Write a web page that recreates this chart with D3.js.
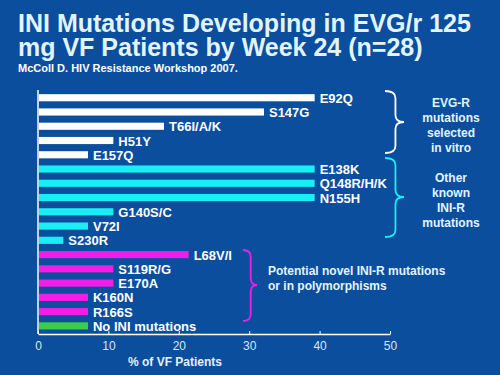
<!DOCTYPE html>
<html>
<head>
<meta charset="utf-8">
<script src="https://cdn.jsdelivr.net/npm/d3@7"></script>
<style>
  body { margin: 0; background: #0b4e9e; }
  svg { display: block; font-family: "Liberation Sans", Arial, sans-serif; }
</style>
</head>
<body>
<svg id="chart" width="500" height="375"></svg>
<script>
// mutation names, top to bottom
const mutations = ["E92Q", "S147G", "T66I/A/K", "H51Y", "E157Q",
    "E138K", "Q148R/H/K", "N155H", "G140S/C", "V72I", "S230R",
    "L68V/I", "S119R/G", "E170A", "K160N", "R166S", "No INI mutations"];
// % of VF patients (n=28)
const percents = [39.3, 32.1, 17.9, 10.7, 7.1,
    39.3, 39.3, 39.3, 10.7, 7.1, 3.6,
    21.4, 10.7, 10.7, 7.1, 7.1, 7.1];
const groups = ["evg", "evg", "evg", "evg", "evg",
    "known", "known", "known", "known", "known", "known",
    "novel", "novel", "novel", "novel", "novel", "none"];
const xTicks = [0, 10, 20, 30, 40, 50];

const COLORS = { evg: "#ffffff", known: "#19eef5", novel: "#f01ee6", none: "#3ccf46" };
const TEXT = "#e2f4ff";

const svg = d3.select("#chart");

// background
svg.append("rect").attr("width", 500).attr("height", 375).attr("fill", "#0b4e9e");

// Title
const title = svg.append("g").attr("fill", TEXT).style("font-weight", "bold");
title.append("text").attr("x", 18).attr("y", 32).style("font-size", "25px")
    .text("INI Mutations Developing in EVG/r 125");
title.append("text").attr("x", 18).attr("y", 56).style("font-size", "25px")
    .text("mg VF Patients by Week 24 (n=28)");
title.append("text").attr("x", 18).attr("y", 72).style("font-size", "11px")
    .attr("fill", "#ffffff")
    .text("McColl D. HIV Resistance Workshop 2007.");

const x = d3.scaleLinear().domain([0, 50]).range([38, 390]);
const y = d3.scaleBand().domain(mutations).range([90.6, 333]).paddingInner(0.5).paddingOuter(0.25);

// bars
svg.append("g").selectAll("rect")
    .data(mutations)
    .enter()
    .append("rect")
    .attr("x", x(0) + 1)
    .attr("y", d => y(d))
    .attr("width", (d, i) => x(percents[i]) - x(0) - 1)
    .attr("height", y.bandwidth())
    .attr("fill", (d, i) => COLORS[groups[i]]);

// bar labels
svg.append("g").selectAll("text")
    .data(mutations)
    .enter()
    .append("text")
    .attr("x", (d, i) => x(percents[i]) + 5)
    .attr("y", d => y(d) + y.bandwidth() / 2 + 5)
    .attr("fill", "#ffffff")
    .style("font-size", "13px")
    .style("font-weight", "bold")
    .text(d => d);

// axes
const xAxis = svg.append("g")
    .attr("transform", `translate(0, 334)`)
    .call(d3.axisBottom(x).tickValues(xTicks).tickSizeInner(-3).tickSizeOuter(0).tickPadding(7));
xAxis.select(".domain").attr("stroke", "#ffffff").attr("stroke-width", 1.5);
xAxis.selectAll(".tick line").attr("stroke", "#ffffff");
xAxis.selectAll(".tick text").attr("fill", "#d6e6f6")
    .style("font-size", "12px").style("font-family", "Liberation Sans, Arial, sans-serif");

svg.append("line")
    .attr("x1", 38).attr("x2", 38).attr("y1", 90).attr("y2", 334)
    .attr("stroke", "#ffffff").attr("stroke-width", 1.5);

svg.append("text")
    .attr("x", 175).attr("y", 366)
    .attr("text-anchor", "middle")
    .attr("fill", "#e2f0ff")
    .style("font-size", "12px").style("font-weight", "bold")
    .text("% of VF Patients");

// curly braces
function brace(x0, y0, y1, yTip, w, color) {
    const xm = x0 + w * 0.55, xt = x0 + w, r = 7;
    const p = `M${x0},${y0} Q${xm},${y0} ${xm},${y0 + r} L${xm},${yTip - r} Q${xm},${yTip} ${xt},${yTip}`
        + ` Q${xm},${yTip} ${xm},${yTip + r} L${xm},${y1 - r} Q${xm},${y1} ${x0},${y1}`;
    svg.append("path").attr("d", p).attr("fill", "none")
        .attr("stroke", color).attr("stroke-width", 1.8);
}
brace(385, 91, 153, 122, 19, "#ffffff");
brace(385, 158, 237, 197, 19, COLORS.known);
brace(243, 250, 321, 285, 14, COLORS.novel);

// annotations
function note(lines, cx, cy0, size, anchor) {
    svg.append("g").selectAll("text")
        .data(lines)
        .enter()
        .append("text")
        .attr("x", cx)
        .attr("y", (d, i) => cy0 + i * 15)
        .attr("text-anchor", anchor)
        .attr("fill", TEXT)
        .style("font-size", `${size}px`)
        .style("font-weight", "bold")
        .text(d => d);
}
note(["EVG-R", "mutations", "selected", "in vitro"], 451, 107, 12, "middle");
note(["Other", "known", "INI-R", "mutations"], 451, 182, 12, "middle");
note(["Potential novel INI-R mutations", "or in polymorphisms"], 268, 275, 12, "start");
</script>
</body>
</html>
